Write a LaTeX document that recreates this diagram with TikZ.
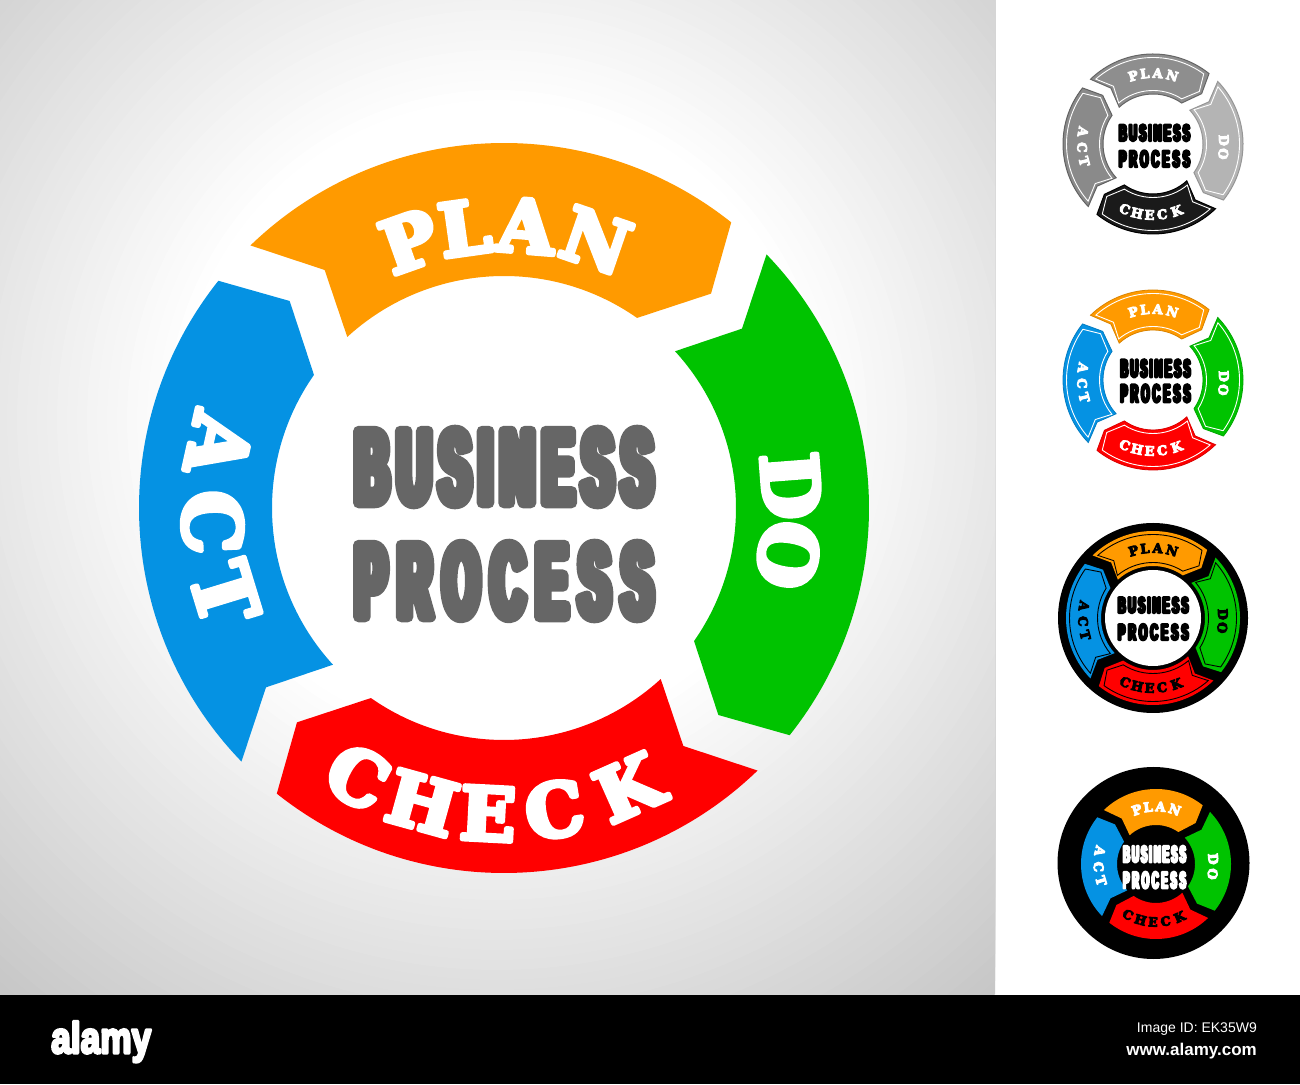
\documentclass[tikz,border=0pt]{standalone}
\usepackage{fontspec}
\usepackage{graphicx}
\newfontfamily\slab{DejaVu Serif}
\newfontfamily\bpfont{Liberation Sans}[FakeStretch=0.424]
\newfontfamily\arialf{Liberation Sans}
\definecolor{cOr}{HTML}{FF9A00}
\definecolor{cGr}{HTML}{00C300}
\definecolor{cRd}{HTML}{FF0000}
\definecolor{cBl}{HTML}{0592E3}
\definecolor{cTx}{HTML}{666666}
\definecolor{gPl}{HTML}{8E8E8E}
\definecolor{gPlD}{HTML}{666666}
\definecolor{gDo}{HTML}{B4B4B4}
\definecolor{gDoD}{HTML}{969696}
\definecolor{gCk}{HTML}{1A1A1A}
\definecolor{gCkD}{HTML}{000000}
\definecolor{gAc}{HTML}{8A8A8A}
\definecolor{gAcD}{HTML}{626262}
\makeatletter
\newcommand\strokeon[1]{\pgfsys@invoke{2 Tr 1 j 1 J #1 w}}
\newcommand\strokeoff{\pgfsys@invoke{0 Tr}}
% letter spacing: \spc{<kern>}{WORD}
\newcommand\spc[2]{\def\spc@k{#1}\spc@a#2\relax}
\def\spc@a#1#2{#1\ifx\relax#2\expandafter\@gobble\else\kern\spc@k\fi\spc@a#2}
\makeatother
% #1 box width, #2 box height, #3 letter kern, #4 word
\newcommand\bizline[4]{\resizebox{#1}{#2}{\strokeon{10}\bpfont\bfseries\fontsize{99}{99}\selectfont\spc{#3}{#4}\strokeoff}}
% #1 centre angle, #2 inner r, #3 outer r, #4 mid r, #5 inset angle
\newcommand\segpath[5]{({#1+41-#5}:#3) arc[start angle={#1+41-#5}, end angle={#1-41.5+#5}, radius=#3] -- ({#1-47+#5}:#4) -- ({#1-38+#5}:#2) arc[start angle={#1-38+#5}, end angle={#1+39.5-#5}, radius=#2] -- ({#1+34-#5}:#4) -- cycle}
% #1 name, #2 list angle/letter, #3 radius, #4 rotation offset, #5 font size, #6 colour, #7 stroke
\newcommand\letterring[7]{\begin{scope}\strokeon{#7}\foreach \t/\l [count=\k] in {#2} {\node[inner sep=0, text=#6, font=\slab\bfseries\fontsize{#5}{#5}\selectfont, rotate={\t#4}] (#1-\k) at (\t:#3) {\l};}\strokeoff\end{scope}}
\begin{document}
\begin{tikzpicture}[x=1pt,y=1pt]
\useasboundingbox (0,0) rectangle (1300,1084);
\fill[white] (0,0) rectangle (1300,1084);
\begin{scope}
  \clip (0,89) rectangle (995,1084);
  \foreach \i in {0,...,44} {
    \pgfmathsetmacro\g{0.78+0.22*\i/44}
    \definecolor{bgc}{gray}{\g}
    \fill[bgc] (497,664) circle[radius={760-\i*10}];
  }
  \fill[white] (497,664) circle[radius=320];
\end{scope}
\fill[black] (0,0) rectangle (1300,89);

% ---------------- main ring
\begin{scope}[shift={(504,576)}]
  \fill[cOr] \segpath{93}{232}{365}{298}{0};
  \fill[cGr] \segpath{3}{232}{365}{298}{0};
  \fill[cRd] \segpath{-87}{232}{365}{298}{0};
  \fill[cBl] \segpath{183}{232}{365}{298}{0};
  \letterring{plan}{109.5/P, 98/L, 85.5/A, 71/N}{283}{-90}{73}{white}{5}
  \letterring{do}{4.4/D, -9.4/O}{288}{-90}{77}{white}{5}
  \letterring{check}{-118.5/C, -105.5/H, -93/E, -80.5/C, -66/K}{306}{+90}{73}{white}{5}
  \letterring{act}{167.5/A, 182.8/C, 197/T}{292}{+90}{80}{white}{5}
\end{scope}
\node[anchor=base, inner sep=0, text=cTx] (mainbus) at (504,581) {\bizline{297pt}{73pt}{8pt}{BUSINESS}};
\node[anchor=base, inner sep=0, text=cTx] (mainproc) at (504,467) {\bizline{297pt}{73pt}{11pt}{PROCESS}};

% ---------------- small 1 : grey
\begin{scope}[shift={(1153,940)}]
  \foreach \a/\f/\d in {93/gPl/gPlD, 3/gDo/gDoD, -87/gCk/gCkD, 183/gAc/gAcD} {
    \filldraw[fill=\f, draw=\d, line width=1] \segpath{\a}{50}{90}{70}{0};
    \draw[white, line width=0.9] \segpath{\a}{53.5}{86.5}{70}{2.6};
  }
  \letterring{aplan}{106.2/P, 96.8/L, 86.2/A, 74.3/N}{71}{-90}{13}{white}{0.9}
  \letterring{ado}{3/D, -8/O}{71}{-90}{13}{white}{0.9}
  \letterring{acheck}{-113.5/C, -103/H, -92.8/E, -82.6/C, -70.5/K}{71}{+90}{13}{white}{0.9}
  \letterring{aact}{170.1/A, 182.7/C, 194.2/T}{71}{+90}{13}{white}{0.9}
\end{scope}
\node[anchor=base, inner sep=0, text=black] (s1bus) at (1154.5,943) {\bizline{71pt}{16.5pt}{8pt}{BUSINESS}};
\node[anchor=base, inner sep=0, text=black] (s1proc) at (1154.5,917) {\bizline{71pt}{16.5pt}{11pt}{PROCESS}};

% ---------------- small 2 : colour
\begin{scope}[shift={(1153,704)}]
  \foreach \a/\f in {93/cOr, 3/cGr, -87/cRd, 183/cBl} {
    \filldraw[fill=\f, draw=\f!85!black, line width=0.8] \segpath{\a}{50}{90}{70}{0};
    \draw[white, line width=0.9] \segpath{\a}{53.5}{86.5}{70}{2.6};
  }
  \letterring{bplan}{106.2/P, 96.8/L, 86.2/A, 74.3/N}{71}{-90}{13}{white}{0.9}
  \letterring{bdo}{3/D, -8/O}{71}{-90}{13}{white}{0.9}
  \letterring{bcheck}{-113.5/C, -103/H, -92.8/E, -82.6/C, -70.5/K}{71}{+90}{13}{white}{0.9}
  \letterring{bact}{170.1/A, 182.7/C, 194.2/T}{71}{+90}{13}{white}{0.9}
\end{scope}
\node[anchor=base, inner sep=0, text=black] (s2bus) at (1155.5,706.8) {\bizline{70.2pt}{17.8pt}{8pt}{BUSINESS}};
\node[anchor=base, inner sep=0, text=black] (s2proc) at (1155.5,681.8) {\bizline{70.2pt}{17.8pt}{11pt}{PROCESS}};

% ---------------- small 3 : black ring
\begin{scope}[shift={(1153,466)}]
  \fill[black] (0,0) circle[radius=95];
  \fill[white] (0,0) circle[radius=48];
  \foreach \a/\f in {93/cOr, 3/cGr, -87/cRd, 183/cBl} {
    \fill[\f] \segpath{\a}{52}{87}{69.5}{0};
    \draw[black, line width=0.9] \segpath{\a}{55.5}{83.5}{69.5}{2.6};
  }
  \letterring{cplan}{106.2/P, 96.8/L, 86.2/A, 74.3/N}{70}{-90}{13}{black}{0.9}
  \letterring{cdo}{3/D, -8/O}{70}{-90}{13}{black}{0.9}
  \letterring{ccheck}{-113.5/C, -103/H, -92.8/E, -82.6/C, -70.5/K}{70}{+90}{13}{black}{0.9}
  \letterring{cact}{170.1/A, 182.7/C, 194.2/T}{70}{+90}{13}{black}{0.9}
\end{scope}
\node[anchor=base, inner sep=0, text=black] (s3bus) at (1153.3,471) {\bizline{70.6pt}{16pt}{8pt}{BUSINESS}};
\node[anchor=base, inner sep=0, text=black] (s3proc) at (1153.3,444) {\bizline{70.6pt}{16pt}{11pt}{PROCESS}};

% ---------------- small 4 : black disc
\fill[black] (1153.5,221) circle[radius=96];
\begin{scope}[shift={(1156,220)}]
  \foreach \a/\f in {93/cOr, 3/cGr, -87/cRd, 183/cBl} {
    \fill[\f] \segpath{\a}{39}{75}{57}{0};
  }
  \letterring{dplan}{109.5/P, 98/L, 85.5/A, 71/N}{57.5}{-90}{13}{white}{1}
  \letterring{ddo}{5/D, -10/O}{57.5}{-90}{13}{white}{1}
  \letterring{dcheck}{-119/C, -105.5/H, -93/E, -80.5/C, -66/K}{58}{+90}{12.5}{black}{1}
  \letterring{dact}{167/A, 182.8/C, 197/T}{57.5}{+90}{13}{white}{1}
\end{scope}
\node[anchor=base, inner sep=0, text=white] (s4bus) at (1154.5,221.7) {\bizline{63pt}{16.5pt}{8pt}{BUSINESS}};
\node[anchor=base, inner sep=0, text=white] (s4proc) at (1154.5,195.7) {\bizline{63pt}{16.5pt}{11pt}{PROCESS}};

% ---------------- bottom bar
\node[anchor=north west, inner sep=0, text=white] (alamylogo) at (51,63) {\resizebox*{100pt}{41pt}{\strokeon{3}\arialf\bfseries\fontsize{46}{46}\selectfont alamy\strokeoff}};
\node[anchor=base east, inner sep=0, text=white, font=\arialf\fontsize{14}{14}\selectfont] (imgid) at (1257,52) {Image ID: EK35W9};
\node[anchor=base east, inner sep=0, text=white, font=\arialf\bfseries\fontsize{17}{17}\selectfont] (www) at (1257,29) {www.alamy.com};
\end{tikzpicture}
\end{document}
